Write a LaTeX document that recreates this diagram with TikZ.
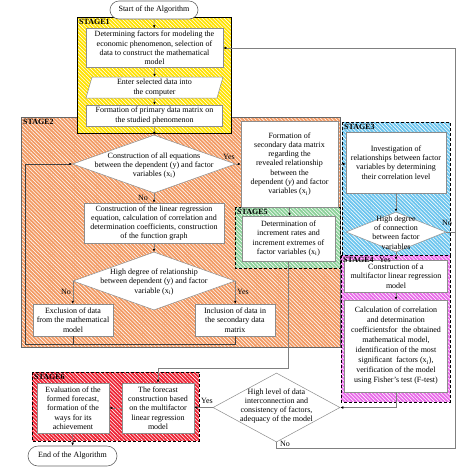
\documentclass[tikz,border=0pt]{standalone}
\usepackage{fontspec}
\setmainfont{Liberation Serif}
\usetikzlibrary{shapes.geometric,arrows.meta,patterns.meta,calc,backgrounds}
\definecolor{cyel}{HTML}{FFE200}
\definecolor{corg}{HTML}{F29A63}
\definecolor{cblu}{HTML}{6CC5EE}
\definecolor{cpnk}{HTML}{EA6AEA}
\definecolor{cgrn}{HTML}{8CD199}
\definecolor{cred}{HTML}{EE2233}
\newcommand\mystage[4]{%
  \fill[#1] #2 rectangle #3;
  \fill[pattern={Lines[angle=-45,distance=2.6pt,line width=0.55pt]}, pattern color=white, fill opacity=0.5] #2 rectangle #3;
  \draw[#4] #2 rectangle #3;}
\begin{document}
\begin{tikzpicture}[x=1pt,y=-1pt,
  font=\fontsize{8}{9.3}\selectfont,
  box/.style={draw=black!45, line width=0.5pt, fill=white, align=center, inner sep=1pt, rectangle},
  dia/.style={draw=black!45, line width=0.5pt, fill=white, diamond, inner sep=0pt},
  term/.style={draw=black!60, line width=0.6pt, fill=white, rounded corners=9pt, align=center, inner sep=1pt},
  dtext/.style={align=center, inner sep=0pt},
  conn/.style={draw=black!50, line width=0.5pt},
  arr/.style={conn, -{Latex[length=3pt,width=2.6pt,color=black]}},
  loopl/.style={draw=black!75, line width=0.5pt},
  lab/.style={inner sep=0.5pt},
  stg/.style={font=\bfseries\fontsize{8}{9}\selectfont, anchor=north west, inner sep=1pt},
  solidframe/.style={draw=black, line width=1pt},
  dashframe/.style={draw=black, line width=1pt, dash pattern=on 3pt off 2pt},
  thinframe/.style={draw=black!60, line width=0.6pt}
]
\useasboundingbox (0,0) rectangle (474,467);

% ---------- nodes ----------
\node[term, minimum width=88, minimum height=18] (start) at (154,10) {Start of the Algorithm};
\node[box, minimum width=137, minimum height=39] (b1) at (154.5,48) {Determining factors for modeling the\\economic phenomenon, selection of\\data to construct the mathematical\\model};
\node[draw=black!45, line width=0.5pt, fill=white, trapezium, trapezium left angle=72, trapezium right angle=108, trapezium stretches body, minimum width=137, minimum height=21, inner sep=1pt, align=center] (b2) at (154.5,87.5) {Enter selected data into\\the computer};
\node[box, minimum width=136, minimum height=21] (b3) at (154.5,115.5) {Formation of primary data matrix on\\the studied phenomenon};

\node[dia, minimum width=163, minimum height=58] (d1) at (154,164) {};
\node[dtext] (d1t) at (154,165.5) {Construction of all equations\\between the dependent (y) and factor\\variables (x\textsubscript{i})};

\node[box, minimum width=97, minimum height=86] (sec) at (289.5,164) {Formation of\\secondary data matrix\\regarding the\\revealed relationship\\between the\\dependent (\textit{y}) and factor\\variables (x\textsubscript{i})};

\node[box, minimum width=140, minimum height=40] (lin) at (154,223) {Construction of the linear regression\\equation, calculation of correlation and\\determination coefficients, construction\\of the function graph};

\node[dia, minimum width=162, minimum height=58] (d2) at (154,281) {};
\node[dtext] (d2t) at (154,282) {High degree of relationship\\between dependent (y) and factor\\variable (x\textsubscript{i})};

\node[box, minimum width=80, minimum height=32] (ex) at (73,320) {Exclusion of data\\from the mathematical\\model};
\node[box, minimum width=80, minimum height=32] (inc) at (235,320) {Inclusion of data in\\the secondary data\\matrix};

\node[box, minimum width=93, minimum height=45] (det) at (288.5,238.5) {Determination of\\increment rates and\\increment extremes of\\factor variables (x\textsubscript{i})};

\node[box, minimum width=100, minimum height=61] (inv) at (396,162.5) {Investigation of\\relationships between factor\\variables by determining\\their correlation level};
\node[dia, minimum width=100, minimum height=40] (d3) at (396,232) {};
\node[dtext] (d3t) at (396,232.5) {High degree\\of connection\\between factor\\variables};

\node[box, minimum width=103, minimum height=32] (mul) at (396,276) {Construction of a\\multifactor linear regression\\model};
\node[box, minimum width=103, minimum height=92, font=\fontsize{8}{10}\selectfont] (calc) at (396,346) {Calculation of correlation\\and determination\\coefficientsfor\ \ the obtained\\mathematical model,\\identification of the most\\significant\ \ factors (x\textsubscript{i}),\\verification of the model\\using Fisher's test (F-test)};

\node[dia, minimum width=127, minimum height=69] (d4) at (276.5,407.5) {};
\node[dtext] (d4t) at (276.5,406) {High level of data\\interconnection and\\consistency of factors,\\adequacy of the model};

\node[box, minimum width=72, minimum height=50] (ev) at (73,408) {Evaluation of the\\formed forecast,\\formation of the\\ways for its\\achievement};
\node[box, minimum width=72, minimum height=50] (fc) at (158,408) {The forecast\\construction based\\on the multifactor\\linear regression\\model};

\node[term, minimum width=89, minimum height=20, rounded corners=10pt] (end) at (72.5,456) {End of the Algorithm};

% ---------- stage labels ----------
\node[stg] (s1) at (78,17.5) {STAGE1};
\node[stg] (s2) at (22,118) {STAGE2};
\node[stg] (s3) at (343,123) {STAGE3};
\node[stg] (s4) at (342,256) {STAGE4};
\node[stg] (s5) at (236,208) {STAGE5};
\node[stg] (s6) at (33,373) {STAGE6};

% ---------- coordinates ----------
\coordinate (lp1) at (25,344);
\coordinate (lp2) at (25,164);
\coordinate (c5) at (288,368);
\coordinate (R) at (455,48);
\coordinate (nb) at (455,448);

% ---------- connectors ----------
\draw[arr] (start) -- (b1);
\draw[arr] (b1) -- (b2);
\draw[arr] (b2) -- (b3);
\draw[arr] (b3) -- (d1);
\draw[arr] (d1.east) -- (sec.west);
\draw[arr] (d1.south) -- (lin.north);
\draw[arr] (lin.south) -- (d2.north);
\draw[arr] (d2.west) -- (d2.west |- ex.north);
\draw[arr] (d2.east) -- (d2.east |- inc.north);
\draw[loopl, -{Latex[length=3pt,width=2.6pt,color=black]}] (ex.south) |- (lp1) -- (lp2) -- (d1.west);
\draw[loopl] (inc.south) |- (ex.south |- lp1);
\draw[arr] (sec.south) -- (sec.south |- det.north);
\draw[arr] (sec.east) -- (sec.east -| inv.west);
\draw[arr] (det.south) -- (det.south |- c5) -| (fc.north);
\draw[arr] (inv) -- (d3);
\draw[arr] (d3) -- (mul);
\draw[conn] (d3.east) -- (d3.east -| R);
\draw[arr] (d4.south) |- (nb) -- (R) -- (b1.east);
\draw[arr] (mul) -- (calc);
\draw[arr] (calc.south) |- (d4.east);
\draw[arr] (d4.west) -- (d4.west -| fc.east);
\draw[arr, dashed] (fc.west) -- (ev.east);
\draw[arr] (ev) -- (end);

% ---------- connector labels ----------
\node[lab] (y1) at (229,157) {Yes};
\node[lab] (n1) at (143,198) {No};
\node[lab] (n2) at (66,292) {No};
\node[lab] (y2) at (243,292) {Yes};
\node[lab] (n3) at (447,223) {No};
\node[lab] (y3) at (385,260) {Yes};
\node[lab] (y4) at (207,401) {Yes};
\node[lab] (n4) at (285,444) {No};

% ---------- stage regions ----------
\begin{scope}[on background layer]
\mystage{corg}{(21,117)}{(340,347)}{thinframe}
\mystage{cyel}{(77,17)}{(231,133)}{solidframe}
\mystage{cgrn}{(235,207)}{(340,268)}{dashframe}
\mystage{cblu}{(342,122)}{(450,255)}{dashframe}
\mystage{cpnk}{(341,255)}{(450,402)}{dashframe}
\mystage{cred}{(32,372)}{(199,441)}{dashframe}
\end{scope}
\end{tikzpicture}
\end{document}
